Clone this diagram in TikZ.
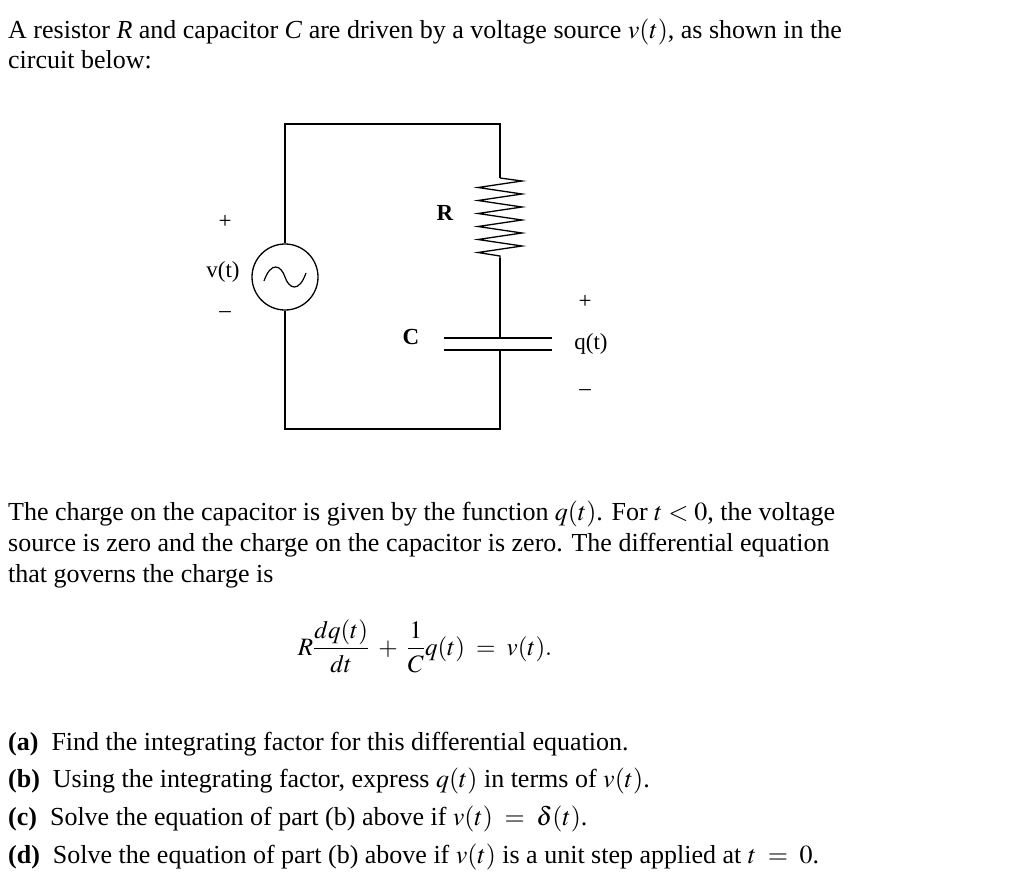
\documentclass[tikz,border=0pt]{standalone}
\usepackage{mathptmx}
\usepackage{fontspec}
\setmainfont{Liberation Serif}
\usetikzlibrary{calc}
\begin{document}
\begin{tikzpicture}[x=1pt,y=-1pt,
  txt/.style={anchor=base west,inner sep=0pt,font=\fontsize{26}{30}\selectfont},
  lab/.style={inner sep=0pt,font=\fontsize{23}{27}\selectfont},
  wire/.style={line width=1.3pt}]
\useasboundingbox (0,0) rectangle (1024,886);
% text top
\node[txt] (l1) at (8,38) {A resistor \textit{R} and capacitor \textit{C} are driven by a voltage source $v(t)$, as shown in the};
\node[txt] (l2) at (8,68) {circuit below:};
% circuit
\coordinate (tl) at (285,124);
\coordinate (tr) at (500,124);
\coordinate (bl) at (285,429);
\coordinate (br) at (500,429);
\node[circle,draw,line width=1.3pt,minimum size=66pt,inner sep=0pt] (src) at (285,277) {};
\draw[line width=1.2pt] ($(src.center)+(-21,4)$) .. controls ($(src.center)+(-14,-16)$) and ($(src.center)+(-4,-12)$) .. ($(src.center)+(0,0)$) .. controls ($(src.center)+(4,12)$) and ($(src.center)+(14,16)$) .. ($(src.center)+(21,-4)$);
\coordinate (r1) at (500,178);
\coordinate (r2) at (500,258);
\coordinate (c1) at (500,338);
\coordinate (c2) at (500,350);
\draw[wire] (src.north) -- (tl) -- (tr) -- (r1);
\draw[wire] (r1) -- ++(22,3) -- ++(-44,6.5) -- ++(44,6.5) -- ++(-44,6.5) -- ++(44,6.5) -- ++(-44,6.5) -- ++(44,6.5) -- ++(-44,6.5) -- ++(44,6.5) -- ++(-44,6.5) -- ++(44,6.5) -- ++(-44,6.5) -- ++(22,3.5) -- (r2);
\draw[wire] (r2) -- (c1);
\draw[wire] (444,338) -- (552,338);
\draw[wire] (444,350) -- (552,350);
\draw[wire] (c2) -- (br) -- (bl) -- (src.south);
\node[lab] (pv) at (225,222) {+};
\node[lab] (vt) at (223,272) {v(t)};
\node[lab] (mv) at (225,315) {--};
\node[lab,font=\fontsize{23}{27}\bfseries] (rl) at (445,213) {R};
\node[lab,font=\fontsize{23}{27}\bfseries] (cl) at (411,337) {C};
\node[lab] (pq) at (585,302) {+};
\node[lab] (qt) at (591,344) {q(t)};
\node[lab] (mq) at (585,393) {--};
% paragraph
\node[txt] (p1) at (8,520) {The charge on the capacitor is given by the function $q(t)$. For $t<0$, the voltage};
\node[txt] (p2) at (8,551) {source is zero and the charge on the capacitor is zero. The differential equation};
\node[txt] (p3) at (8,582) {that governs the charge is};
\node[inner sep=0pt,font=\fontsize{25}{29}\selectfont] (eq) at (425,646) {$\displaystyle R\frac{dq(t)}{dt}\;+\;\frac{1}{C}q(t)\;=\;v(t).$};
\node[txt] (a) at (8,750) {\textbf{(a)}\ \ Find the integrating factor for this differential equation.};
\node[txt] (b) at (8,787) {\textbf{(b)}\ \ Using the integrating factor, express $q(t)$ in terms of $v(t)$.};
\node[txt] (c) at (8,825) {\textbf{(c)}\ \ Solve the equation of part (b) above if $v(t)\;=\;\delta(t)$.};
\node[txt] (d) at (8,863) {\textbf{(d)}\ \ Solve the equation of part (b) above if $v(t)$ is a unit step applied at $t\;=\;0$.};
\end{tikzpicture}
\end{document}
